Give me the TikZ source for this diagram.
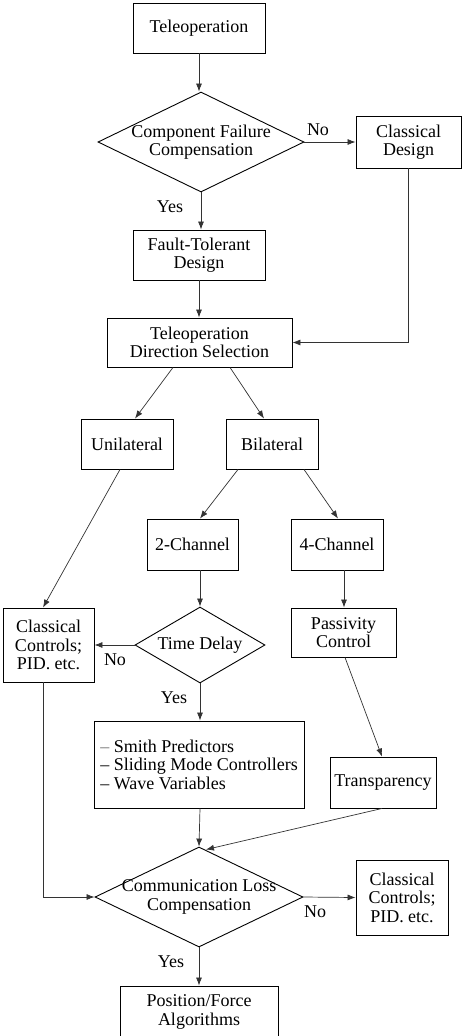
\documentclass[tikz,border=0pt]{standalone}
\usepackage{fontspec}
\setmainfont{Liberation Serif}
\usetikzlibrary{shapes.geometric,arrows.meta}
\newcommand\flowfs{\fontsize{18}{18.5}\selectfont}
\tikzset{
  box/.style={draw, line width=0.9pt, align=center, inner sep=0pt, font=\flowfs},
  dia/.style={draw, diamond, line width=0.9pt, align=center, inner sep=0pt, font=\flowfs},
  arr/.style={-{Latex[length=8pt,width=6pt]}, line width=0.7pt, draw=black!80},
  lbl/.style={font=\flowfs, inner sep=0pt}
}
\begin{document}
\begin{tikzpicture}[x=1pt,y=-1pt]
\useasboundingbox (0,0) rectangle (462,1036);
\node[box, minimum width=132pt, minimum height=50pt] (tele) at (199,28) {Teleoperation};
\node[dia, aspect=2.06, inner xsep=-7pt, minimum width=206pt, minimum height=100pt] (cfc) at (201,142) {Component Failure\\Compensation};
\node[box, minimum width=105pt, minimum height=52pt] (cd) at (408.5,142) {Classical\\Design};
\node[box, minimum width=132pt, minimum height=50pt] (ftd) at (199,255) {Fault-Tolerant\\Design};
\node[box, minimum width=185pt, minimum height=49pt] (tds) at (199.5,342.5) {Teleoperation\\Direction Selection};
\node[box, minimum width=92pt, minimum height=50pt] (uni) at (127,444) {Unilateral};
\node[box, minimum width=92pt, minimum height=50pt] (bil) at (272,444) {Bilateral};
\node[box, minimum width=91pt, minimum height=51pt] (ch2) at (192.5,544.5) {2-Channel};
\node[box, minimum width=92pt, minimum height=51pt] (ch4) at (337,544.5) {4-Channel};
\node[dia, aspect=1.71, minimum width=130pt, minimum height=76pt] (td) at (200,645) {Time Delay};
\node[box, minimum width=91pt, minimum height=74pt] (ccl) at (48.5,645) {Classical\\Controls;\\PID. etc.};
\node[box, minimum width=105pt, minimum height=49pt] (pc) at (343.5,632.5) {Passivity\\Control};
\node[box, minimum width=210pt, minimum height=87pt, align=left] (meth) at (199,764.5) {\textcolor{black!55}{--} Smith Predictors\\-- Sliding Mode Controllers\\-- Wave Variables};
\node[box, minimum width=106pt, minimum height=51pt] (tr) at (383,782.5) {Transparency};
\node[dia, aspect=2.08, inner xsep=-14pt, minimum width=208pt, minimum height=100pt] (clc) at (199,897) {Communication Loss\\Compensation};
\node[box, minimum width=92pt, minimum height=75pt] (ccr) at (402,897.5) {Classical\\Controls;\\PID. etc.};
\node[box, minimum width=158pt, minimum height=52pt] (pf) at (199,1012) {Position/Force\\Algorithms};

\draw[arr] (tele.south) -- (tele.south |- cfc.north);
\draw[arr] (cfc.east) -- (cd.west);
\draw[arr] (cfc.south) -- (cfc.south |- ftd.north);
\draw[arr] (ftd.south) -- (ftd.south |- tds.north);
\draw[arr] (cd.south) |- (tds.east);
\draw[arr] ([xshift=-26.5pt]tds.south) -- ([xshift=8pt]uni.north);
\draw[arr] ([xshift=30.5pt]tds.south) -- ([xshift=-8pt]bil.north);
\draw[arr] ([xshift=-7pt]uni.south) -- ([xshift=-5.5pt]ccl.north);
\draw[arr] ([xshift=-34pt]bil.south) -- ([xshift=7.5pt]ch2.north);
\draw[arr] ([xshift=32pt]bil.south) -- ([xshift=1pt]ch4.north);
\draw[arr] ([xshift=7.5pt]ch2.south) -- (td.north);
\draw[arr] ([xshift=7pt]ch4.south) -- ([xshift=0.5pt]pc.north);
\draw[arr] (td.west) -- (ccl.east);
\draw[arr] (td.south) -- (td.south |- meth.north);
\draw[arr] ([xshift=1.5pt]pc.south) -- ([xshift=-1pt]tr.north);
\draw[arr] ([xshift=1pt]meth.south) -- (clc.north);
\draw[arr] ([xshift=-1pt]tr.south) -- ([xshift=7pt,yshift=-3pt]clc.north);
\draw[arr] ([xshift=-5.5pt]ccl.south) |- (clc.west);
\draw[arr] (clc.east) -- (ccr.west);
\draw[arr] (clc.south) -- (clc.south |- pf.north);

\node[lbl] (no1) at (318,130) {No};
\node[lbl] (yes1) at (170,207) {Yes};
\node[lbl] (no2) at (115,660) {No};
\node[lbl] (yes2) at (174,698) {Yes};
\node[lbl] (no3) at (315,912) {No};
\node[lbl] (yes3) at (171,962) {Yes};
\end{tikzpicture}
\end{document}
